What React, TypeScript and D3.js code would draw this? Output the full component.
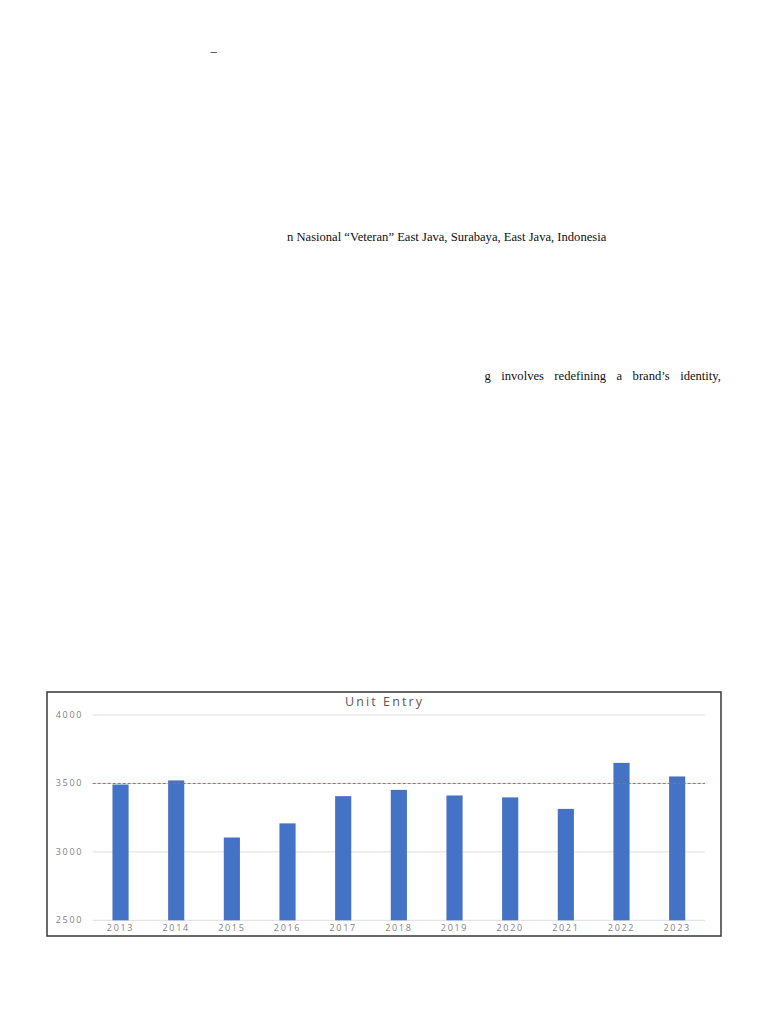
import React from "react";
import * as d3 from "d3";

const years = ["2013", "2014", "2015", "2016", "2017", "2018", "2019", "2020", "2021", "2022", "2023"];
const unitEntry = [3492, 3522, 3105, 3208, 3407, 3453, 3412, 3398, 3314, 3650, 3551];
const yTicks = [2500, 3000, 3500, 4000];
const targetLine = 3500;
const chartTitle = "Unit Entry";

const W = 768;
const H = 1024;

// chart frame on the page
const frame = { x: 47, y: 692, w: 674, h: 244 };
const plot = { left: 92.7, right: 705, top: 715, bottom: 920.3 };

const App = () => {
  const x = d3
    .scaleBand<string>()
    .domain(years)
    .range([plot.left, plot.right])
    .paddingInner(0.71)
    .paddingOuter(0.355);

  const y = d3.scaleLinear().domain([2500, 4000]).range([plot.bottom, plot.top]);

  const axisFont = { fontFamily: "'Open Sans', 'DejaVu Sans', sans-serif", fontSize: 9, fill: "#7f7f7f", letterSpacing: 1.7 };

  return (
    <svg width={W} height={H} style={{ position: "absolute", left: 0, top: 0, background: "#fff" }}>
      {/* page text fragments */}
      <g fontFamily="'Liberation Serif', 'Times New Roman', serif" fontSize={12.6} fill="#111">
        <text x={210.5} y={55}>–</text>
        <text x={287} y={241}>n Nasional “Veteran” East Java, Surabaya, East Java, Indonesia</text>
        <text x={484.5} y={380} wordSpacing={7.3}>g involves redefining a brand’s identity,</text>
      </g>

      {/* chart */}
      <rect x={frame.x} y={frame.y} width={frame.w} height={frame.h} fill="#fff" stroke="#444" strokeWidth={1.6} />
      <text
        x={(frame.x + frame.x + frame.w) / 2 + 0.5}
        y={705.5}
        textAnchor="middle"
        fontFamily="'Open Sans', 'DejaVu Sans', sans-serif"
        fontSize={12.5}
        letterSpacing={2.1}
        fill="#595959"
      >
        {chartTitle}
      </text>

      {yTicks.map((t) => (
        <g key={t}>
          <line x1={plot.left} x2={plot.right} y1={y(t)} y2={y(t)} stroke="#dedede" strokeWidth={1} />
          <text x={55.7} y={y(t) + 3} {...axisFont}>
            {t}
          </text>
        </g>
      ))}

      {years.map((yr, i) => (
        <rect
          key={yr}
          x={x(yr)!}
          y={y(unitEntry[i])}
          width={x.bandwidth()}
          height={plot.bottom - y(unitEntry[i])}
          fill="#4472c4"
        />
      ))}

      <line
        x1={plot.left}
        x2={plot.right}
        y1={y(targetLine)}
        y2={y(targetLine)}
        stroke="#d9534f"
        strokeWidth={1}
        strokeDasharray="3,2"
      />

      {years.map((yr) => (
        <text key={yr} x={x(yr)! + x.bandwidth() / 2} y={931} textAnchor="middle" {...axisFont}>
          {yr}
        </text>
      ))}
    </svg>
  );
};

export default App;
